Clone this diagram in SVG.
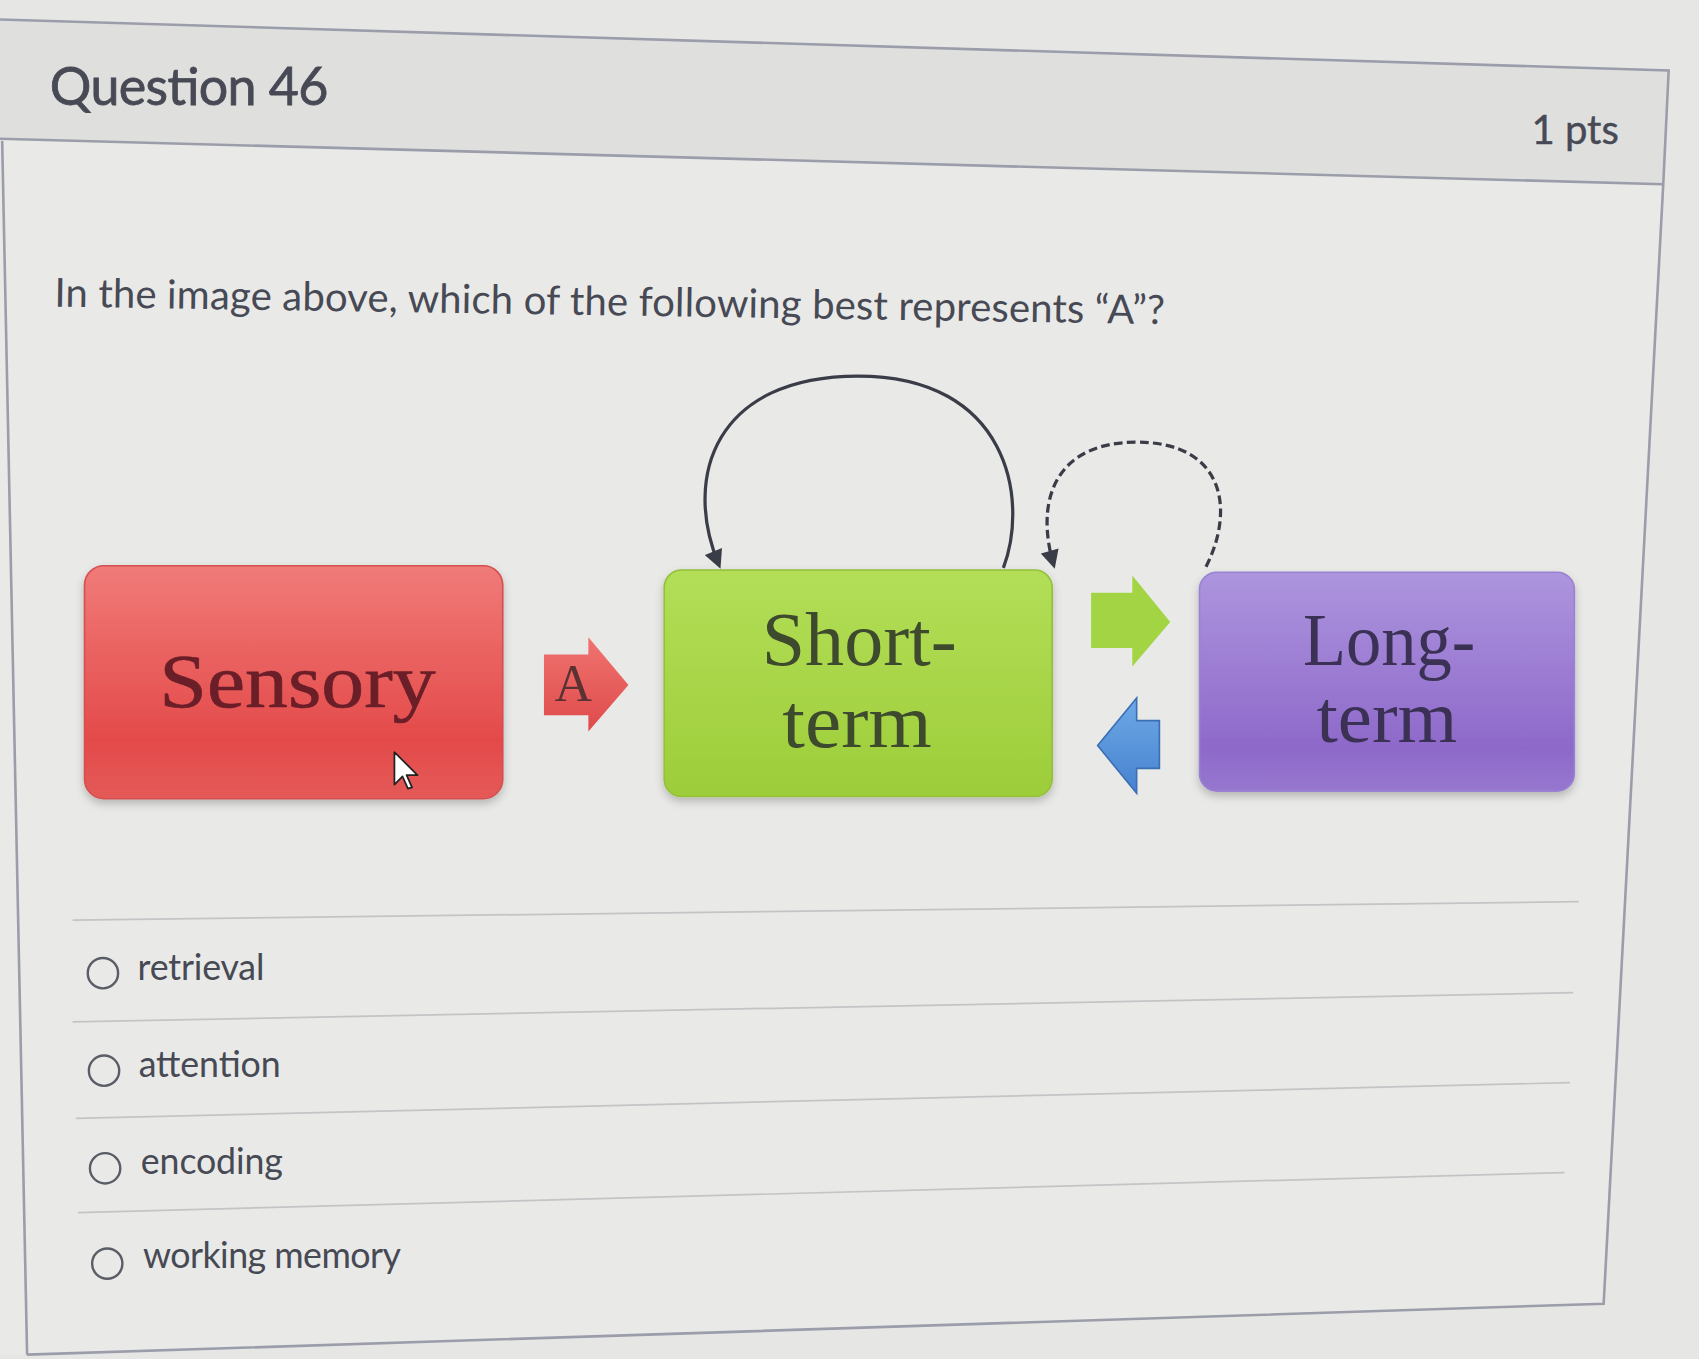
<svg xmlns="http://www.w3.org/2000/svg" width="1699" height="1359" viewBox="0 0 1699 1359">
<defs>
<style>
.ui{font-family:Lato,"Open Sans","Liberation Sans",sans-serif;fill:#474955}
.box{font-family:"Liberation Serif","DejaVu Serif",serif}
.div{stroke:#c3c4c6;stroke-width:1.6;fill:none}
.frame{stroke:#9b9daa;stroke-width:2.4;fill:none}
.radio{fill:none;stroke:#5a5c66;stroke-width:2.2}
.conn{fill:none;stroke:#3a3d48;stroke-width:3}
</style>
<linearGradient id="gRed" x1="0" y1="0" x2="0" y2="1"><stop offset="0" stop-color="#f07b78"/><stop offset="0.75" stop-color="#e44a4a"/><stop offset="1" stop-color="#e45a58"/></linearGradient>
<linearGradient id="gGreen" x1="0" y1="0" x2="0" y2="1"><stop offset="0" stop-color="#b3de58"/><stop offset="1" stop-color="#9dcd39"/></linearGradient>
<linearGradient id="gPurple" x1="0" y1="0" x2="0" y2="1"><stop offset="0" stop-color="#ad95de"/><stop offset="0.8" stop-color="#8e69ca"/><stop offset="1" stop-color="#9677cf"/></linearGradient>
<linearGradient id="gBlue" x1="0" y1="0" x2="0" y2="1"><stop offset="0" stop-color="#6ea9e6"/><stop offset="1" stop-color="#4682cf"/></linearGradient>
<linearGradient id="gArrowRed" x1="0" y1="0" x2="0" y2="1"><stop offset="0" stop-color="#f07470"/><stop offset="1" stop-color="#de4a4a"/></linearGradient>
<filter id="sh" x="-10%" y="-10%" width="120%" height="130%"><feDropShadow dx="0" dy="4" stdDeviation="4" flood-color="#000" flood-opacity="0.22"/></filter>
<marker id="ah" viewBox="0 0 10 10" refX="7" refY="5" markerUnits="userSpaceOnUse" markerWidth="20" markerHeight="17" orient="auto"><path d="M0,0 L10,5 L0,10 z" fill="#3a3d48"/></marker>
</defs>
<rect width="1699" height="1359" fill="#e6e7e4"/>
<g transform="scale(1.08355 1.08373)">
<g id="page">
<polygon points="0,18 1540,65 1535,170 0,128" fill="#dfe0de"/>
<polygon points="0,128 1535,170 1480,1203 25,1250 0,1250" fill="#e9eae7"/>
<polyline class="frame" points="0,18 1540,65 1535,170 1480,1203 25,1250"/>
<line class="frame" x1="0" y1="128" x2="1535" y2="170"/>
<line class="frame" x1="2" y1="130" x2="25" y2="1250" stroke="#a7a9b2" stroke-width="1.6"/>
<text class="ui" x="46" y="97" font-size="48" textLength="257" stroke="#474955" stroke-width="0.7">Question 46</text>
<text class="ui" x="1494" y="133" font-size="37" text-anchor="end" stroke="#474955" stroke-width="0.4">1 pts</text>
<text class="ui" x="50" y="283" font-size="37" textLength="1025" transform="rotate(0.9 50 283)" fill="#3f414b">In the image above, which of the following best represents “A”?</text>
</g>
<g id="answers">
<line class="div" x1="67" y1="849" x2="1457" y2="832"/>
<line class="div" x1="67" y1="943" x2="1452" y2="916"/>
<line class="div" x1="70" y1="1032" x2="1449" y2="999"/>
<line class="div" x1="72" y1="1119" x2="1444" y2="1082"/>
<circle class="radio" cx="95" cy="898" r="14"/>
<text class="ui" x="127" y="904" font-size="33" textLength="117">retrieval</text>
<circle class="radio" cx="96" cy="988" r="14"/>
<text class="ui" x="128" y="994" font-size="33" textLength="131">attention</text>
<circle class="radio" cx="97" cy="1078" r="14"/>
<text class="ui" x="130" y="1083" font-size="33" textLength="131">encoding</text>
<circle class="radio" cx="99" cy="1166" r="14"/>
<text class="ui" x="132" y="1170" font-size="33" textLength="238">working memory</text>
</g>
<g id="connectors">
<path class="conn" d="M 926 524 C 950 460 930 347 792 347 C 660 347 630 440 663 520" marker-end="url(#ah)"/>
<path class="conn" d="M 1113 523 C 1140 470 1130 408 1049 408 C 975 408 955 460 972 520" stroke-dasharray="8 4" marker-end="url(#ah)"/>
<g id="arrowA">
<polygon points="502,604 543,604 543,588 580,632 543,675 543,660 502,660" fill="url(#gArrowRed)"/>
<text class="box" x="529" y="647" font-size="48" text-anchor="middle" fill="#5b3234">A</text>
</g>
<polygon id="arrowToLong" points="1007,547 1045,547 1045,531 1080,574 1045,615 1045,598 1007,598" fill="#a2d443"/>
<polygon id="arrowToShort" points="1070,665 1049,665 1049,644 1013,688 1049,732 1049,709 1070,709" fill="url(#gBlue)" stroke="#3b6fb4" stroke-width="1.5"/>
</g>
<g id="sensory">
<rect x="78" y="522" width="386" height="215" rx="18" fill="url(#gRed)" stroke="#d45050" stroke-width="1.5" filter="url(#sh)"/>
<text class="box" x="147" y="652" font-size="71" textLength="255" lengthAdjust="spacingAndGlyphs" fill="#6a1e28" stroke="#6a1e28" stroke-width="0.6">Sensory</text>
</g>
<g id="shortterm">
<rect x="613" y="526" width="358" height="209" rx="16" fill="url(#gGreen)" stroke="#94c03a" stroke-width="1.5" filter="url(#sh)"/>
<text class="box" x="793" y="614" font-size="71" text-anchor="middle" textLength="180" lengthAdjust="spacingAndGlyphs" fill="#3e4a2e">Short-</text>
<text class="box" x="791" y="689" font-size="71" text-anchor="middle" textLength="138" lengthAdjust="spacingAndGlyphs" fill="#3e4a2e">term</text>
</g>
<g id="longterm">
<rect x="1107" y="528" width="346" height="202" rx="16" fill="url(#gPurple)" stroke="#9a82d2" stroke-width="1.5" filter="url(#sh)"/>
<text class="box" x="1282" y="614" font-size="68" text-anchor="middle" textLength="159" lengthAdjust="spacingAndGlyphs" fill="#3a3154">Long-</text>
<text class="box" x="1280" y="685" font-size="68" text-anchor="middle" textLength="130" lengthAdjust="spacingAndGlyphs" fill="#3a3154">term</text>
</g>
<g id="cursor" transform="translate(364 694) scale(1.25)">
<polygon points="0,0 0,24 6,18 10,27 13,26 9,17 17,17" fill="#ffffff" stroke="#222" stroke-width="1.3" stroke-linejoin="round"/>
</g>
</g>
</svg>
